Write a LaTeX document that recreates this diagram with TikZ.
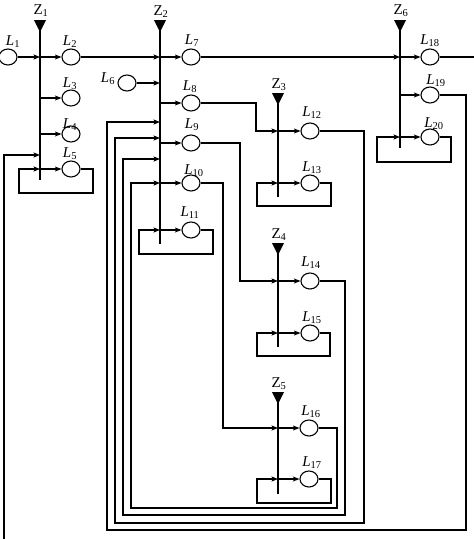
\documentclass[tikz,border=0pt]{standalone}
\usepackage{fontspec}
\setmainfont{Liberation Serif}
\usetikzlibrary{arrows.meta,shapes.geometric}
\newcommand\Llab[1]{\textit{L}\textsubscript{#1}}
\newcommand\Zlab[1]{Z\textsubscript{#1}}
\begin{document}
\begin{tikzpicture}[x=1pt,y=-1pt,line width=1.1pt,
  load/.style={draw,ellipse,minimum width=18pt,minimum height=16pt,inner sep=0pt},
  lab/.style={font=\fontsize{15}{15}\selectfont,inner sep=0pt},
  arr/.style={-{Stealth[length=6.5pt,width=5pt,inset=1.5pt]}}]
\useasboundingbox (0,0) rectangle (474,539);
% ---- buses
\foreach \n/\x/\t/\b in {1/40/20/180, 2/160/20/244, 3/278/93/197, 4/278/243/347, 5/278/392/494, 6/400/20/148}{
  \coordinate (Z\n t) at (\x,\t);
  \coordinate (Z\n b) at (\x,\b);
  \draw (Z\n t) -- (Z\n b);
  \fill (Z\n t) ++(-6,0) -- ++(12,0) -- ++(-6,12) -- cycle;
}
\node[lab] (z1) at (41,11) {\Zlab{1}};
\node[lab] (z2) at (161,12) {\Zlab{2}};
\node[lab] (z3) at (279,85) {\Zlab{3}};
\node[lab] (z4) at (279,235) {\Zlab{4}};
\node[lab] (z5) at (279,384) {\Zlab{5}};
\node[lab] (z6) at (401,11) {\Zlab{6}};
% ---- junctions on buses
\foreach \n/\y in {a/57,b/98,c/134,d/155,e/169}{\coordinate (j1\n) at (40,\y);}
\foreach \n/\y in {a/57,b/83,c/103,d/122,e/138,f/143,g/159,h/183,i/230}{\coordinate (j2\n) at (160,\y);}
\foreach \n/\y in {a/131,b/183}{\coordinate (j3\n) at (278,\y);}
\foreach \n/\y in {a/281,b/333}{\coordinate (j4\n) at (278,\y);}
\foreach \n/\y in {a/428,b/479}{\coordinate (j5\n) at (278,\y);}
\foreach \n/\y in {a/57,b/95,c/137}{\coordinate (j6\n) at (400,\y);}
% ---- loads
\foreach \n/\x/\y in {1/8/57, 2/71/57, 3/71/98, 4/71/134, 5/71/169,
  6/127/83, 7/191/57, 8/191/103, 9/191/143, 10/191/183, 11/191/230,
  12/310/131, 13/310/183, 14/310/281, 15/310/333, 16/309/428, 17/309/479,
  18/430/57, 19/430/95, 20/430/137}{
  \node[load] (L\n) at (\x,\y) {};
}
% ---- load labels
\foreach \n/\x/\y in {1/13/42, 2/70/42, 3/70/84, 4/70/125, 5/70/154,
  7/192/41, 8/190/87, 9/192/125, 10/194/171, 11/190/213,
  12/312/113, 13/312/168, 14/311/263, 15/312/318, 16/311/412, 17/312/463,
  18/430/41, 19/436/81, 20/434/124}{
  \node[lab] (t\n) at (\x,\y) {\Llab{\n}};
}
\node[lab] (t6) at (108,79) {\Llab{6}};
% ---- free ends
\coordinate (fe1) at (4,539);
\coordinate (fe2) at (474,57);
% ---- Z1
\draw[arr] (L1) -- (j1a);
\draw[arr] (j1a) -- (L2);
\draw[arr] (j1b) -- (L3);
\draw[arr] (j1c) -- (L4);
\draw[arr] (fe1) -- (4,155) -- (j1d);
\draw[arr] (L5.east) -- (93,169) -- (93,193) -- (19,193) -- (19,169) -- (j1e);
\draw[arr] (j1e) -- (L5);
% ---- Z2
\draw[arr] (L2) -- (j2a);
\draw[arr] (j2a) -- (L7);
\draw[arr] (L6) -- (j2b);
\draw[arr] (j2c) -- (L8);
\draw[arr] (j2f) -- (L9);
\draw[arr] (j2h) -- (L10);
\draw[arr] (j2i) -- (L11);
\draw[arr] (L19.east) -- (466,95) -- (466,530) -- (107,530) -- (107,122) -- (j2d);
\draw[arr] (L12.east) -- (364,131) -- (364,523) -- (115,523) -- (115,138) -- (j2e);
\draw[arr] (L14.east) -- (345,281) -- (345,515) -- (123,515) -- (123,159) -- (j2g);
\draw[arr] (L16.east) -- (337,428) -- (337,508) -- (131,508) -- (131,183) -- (j2h);
\draw[arr] (L11.east) -- (213,230) -- (213,254) -- (139,254) -- (139,230) -- (j2i);
% ---- Z3
\draw[arr] (L8.east) -- (256,103) -- (256,131) -- (j3a);
\draw[arr] (j3a) -- (L12);
\draw[arr] (L13.east) -- (331,183) -- (331,206) -- (257,206) -- (257,183) -- (j3b);
\draw[arr] (j3b) -- (L13);
% ---- Z4
\draw[arr] (L9.east) -- (240,143) -- (240,281) -- (j4a);
\draw[arr] (j4a) -- (L14);
\draw[arr] (L15.east) -- (330,333) -- (330,356) -- (257,356) -- (257,333) -- (j4b);
\draw[arr] (j4b) -- (L15);
% ---- Z5
\draw[arr] (L10.east) -- (223,183) -- (223,428) -- (j5a);
\draw[arr] (j5a) -- (L16);
\draw[arr] (L17.east) -- (331,479) -- (331,503) -- (257,503) -- (257,479) -- (j5b);
\draw[arr] (j5b) -- (L17);
% ---- Z6
\draw[arr] (L7) -- (j6a);
\draw[arr] (j6a) -- (L18);
\draw (L18) -- (fe2);
\draw[arr] (j6b) -- (L19);
\draw[arr] (L20.east) -- (451,137) -- (451,162) -- (377,162) -- (377,137) -- (j6c);
\draw[arr] (j6c) -- (L20);
\end{tikzpicture}
\end{document}
